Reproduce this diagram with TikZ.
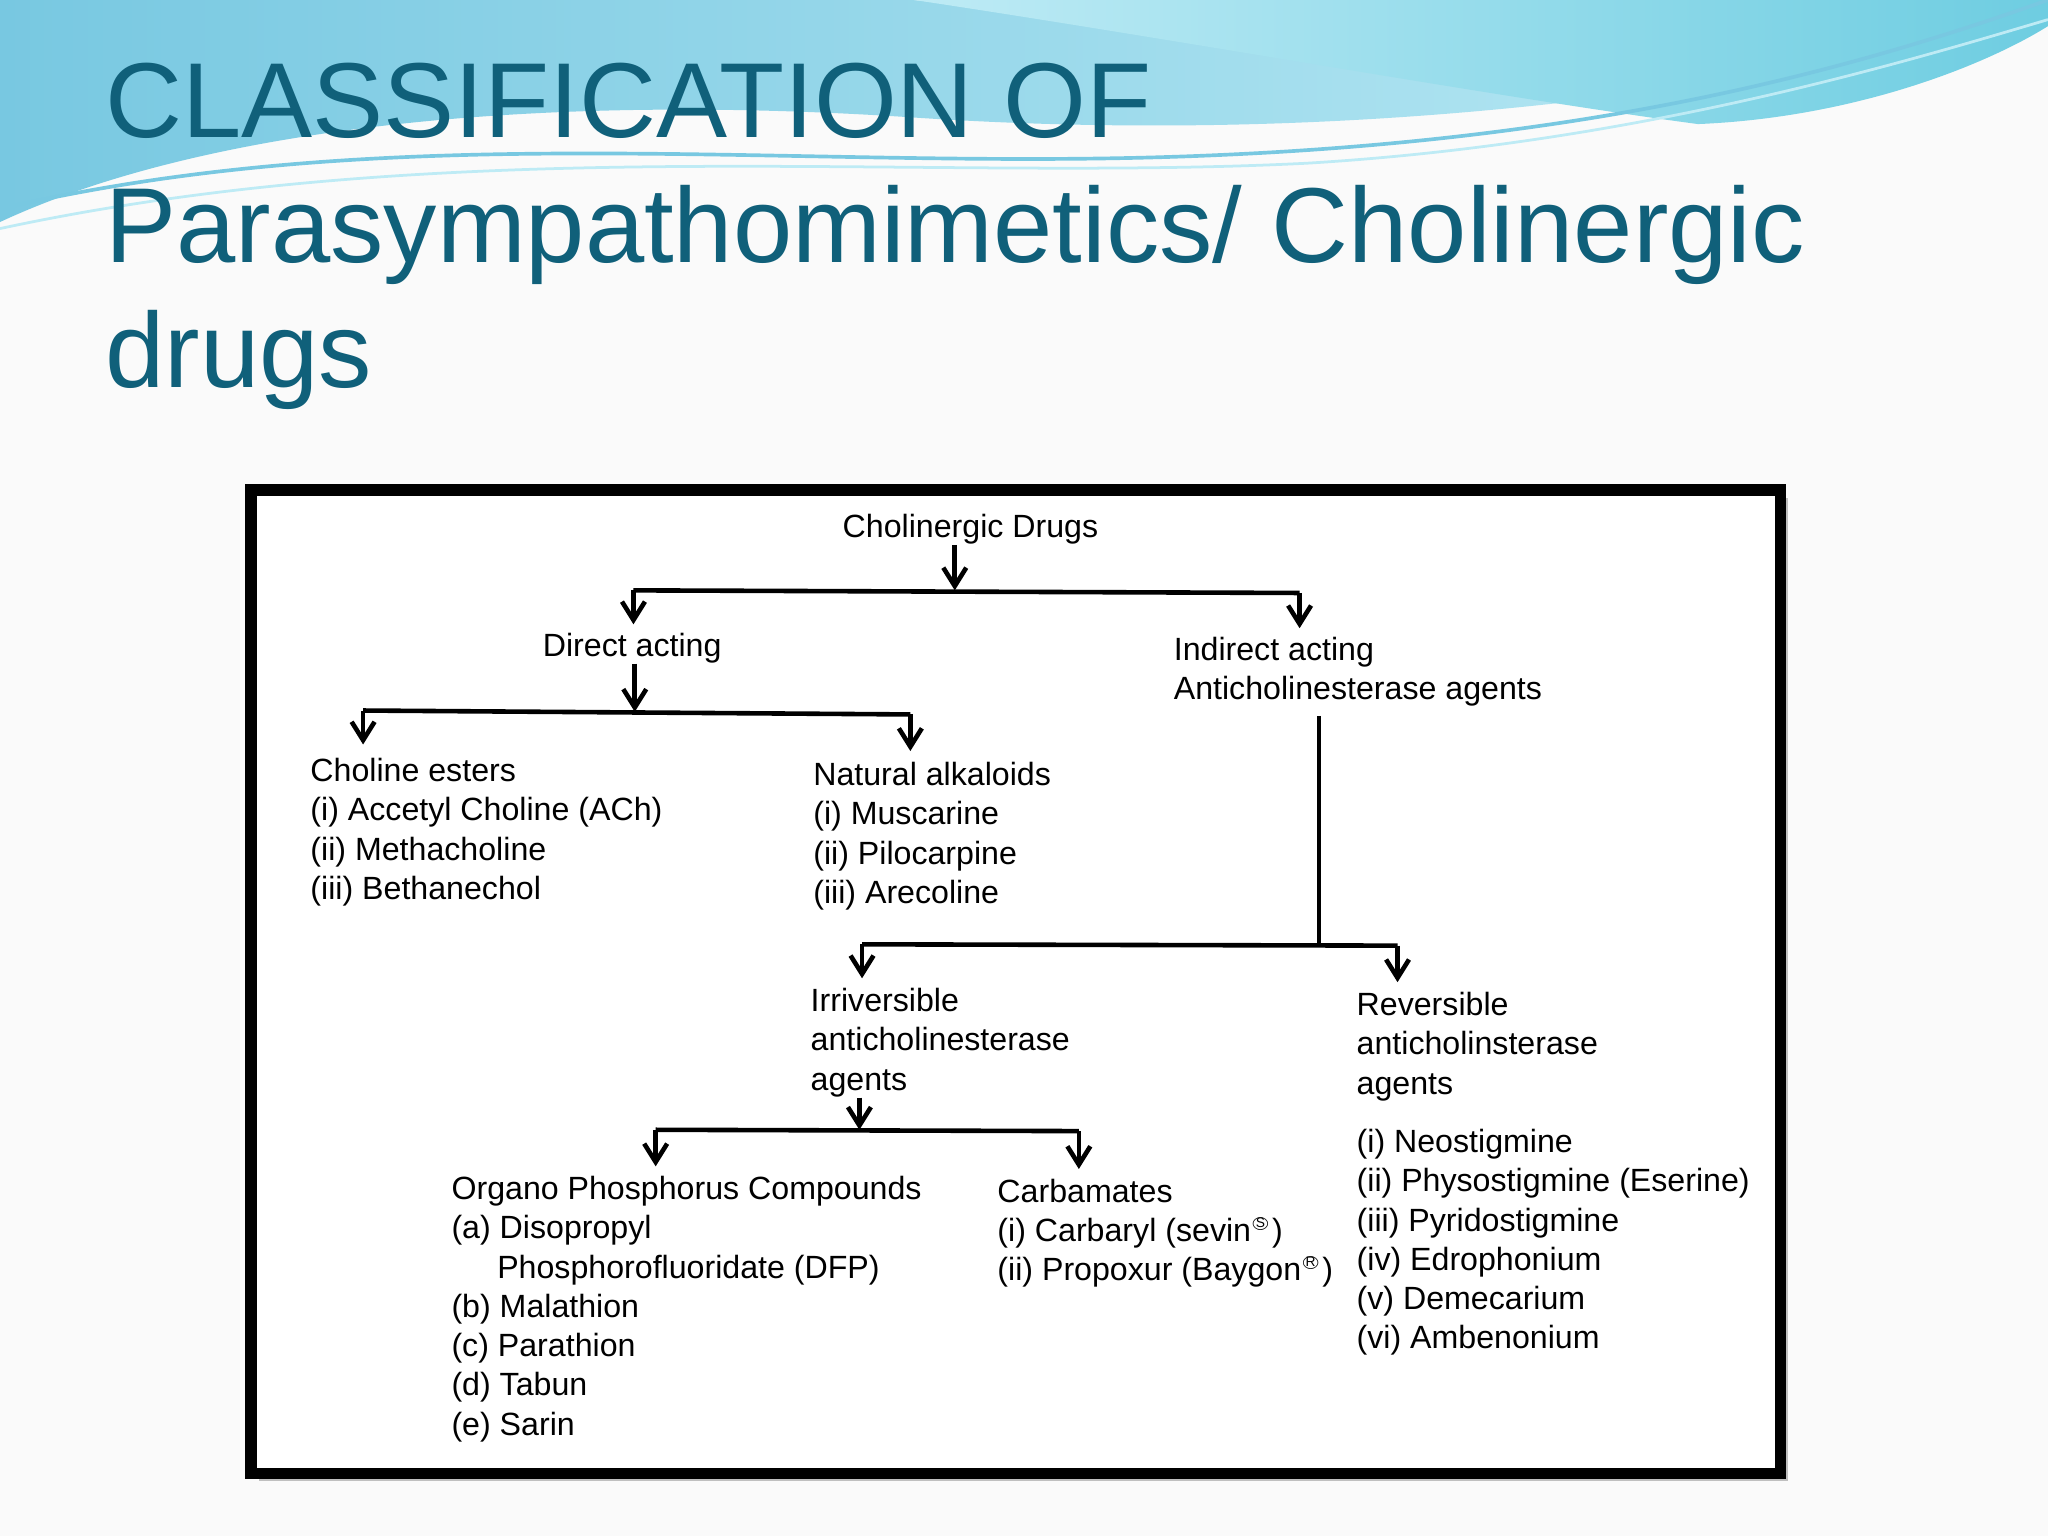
\documentclass[tikz,border=0pt]{standalone}
\usepackage{fontspec}
\setmainfont{Liberation Sans}
\usetikzlibrary{arrows.meta}
\definecolor{titlec}{RGB}{16,96,122}
\definecolor{wave1}{RGB}{120,200,225}
\definecolor{wave2}{RGB}{190,235,245}
\definecolor{wave3}{RGB}{110,205,225}
\begin{document}
\begin{tikzpicture}[x=0.01cm,y=-0.01cm,
  lbl/.style={inner sep=0,anchor=north west,align=left,font=\fontsize{7}{8.54}\selectfont},
  ttl/.style={inner sep=0,anchor=base west,text=titlec,font=\fontsize{23.2}{27.3}\selectfont},
  arr/.style={-{Straight Barb[length=4pt,width=5pt]},line width=1pt},
  ln/.style={line width=1pt}]
\useasboundingbox (0,0) rectangle (1568,1176);
\fill[white!96!gray] (0,0) rectangle (1568,1176);
% waves
\shade[left color=wave1, right color=wave2]
  (0,0) -- (1568,0) -- (1568,10) .. controls (1300,80) and (1000,110) .. (700,90)
  .. controls (400,70) and (150,100) .. (0,170) -- cycle;
\fill[white!96!gray] (700,0) .. controls (900,20) and (1100,60) .. (1250,70)
  .. controls (1400,60) and (1500,20) .. (1568,0) -- cycle;
\shade[left color=wave2, right color=wave3]
  (700,0) .. controls (900,30) and (1150,75) .. (1300,95) .. controls (1420,90) and (1520,50) .. (1568,20)
  -- (1568,0) -- cycle;
\draw[wave1,line width=0.8pt] (0,160) .. controls (300,90) and (600,130) .. (900,120)
  .. controls (1200,110) and (1400,60) .. (1568,0);
\draw[wave2,line width=0.6pt] (0,175) .. controls (350,100) and (700,140) .. (1000,125)
  .. controls (1250,110) and (1450,50) .. (1568,15);
% title
\node[ttl] (t1) at (80,105) {CLASSIFICATION OF};
\node[ttl] (t2) at (80,201) {Parasympathomimetics/ Cholinergic};
\node[ttl] (t3) at (80,297) {drugs};
% box
\fill[gray!50] (198,381) rectangle (1369,1134);
\draw[line width=2.5pt,fill=white] (192,375) rectangle (1363,1128);
% nodes
\node[lbl,anchor=center] (chol) at (743,405) {Cholinergic Drugs};
\node[lbl,anchor=center] (direct) at (484,496) {Direct acting};
\node[lbl] (indirect) at (898,487) {Indirect acting\\Anticholinesterase agents};
\node[lbl] (esters) at (237,580) {Choline esters\\(i) Accetyl Choline (ACh)\\(ii) Methacholine\\(iii) Bethanechol};
\node[lbl] (natural) at (622,583) {Natural alkaloids\\(i) Muscarine\\(ii) Pilocarpine\\(iii) Arecoline};
\node[lbl] (irrev) at (620,756) {Irriversible\\anticholinesterase\\agents};
\node[lbl] (rev) at (1038,759) {Reversible\\anticholinsterase\\agents};
\node[lbl] (organo) at (345,900) {Organo Phosphorus Compounds\\(a) Disopropyl\\\hspace*{0.35cm}Phosphorofluoridate (DFP)\\(b) Malathion\\(c) Parathion\\(d) Tabun\\(e) Sarin};
\node[lbl] (carb) at (763,902) {Carbamates\\(i) Carbaryl (sevin\textsuperscript{\scalebox{0.6}{\textcircled{\tiny S}}})\\(ii) Propoxur (Baygon\textsuperscript{\scalebox{0.6}{\textcircled{\tiny R}}})};
\node[lbl] (revlist) at (1038,864) {(i) Neostigmine\\(ii) Physostigmine (Eserine)\\(iii) Pyridostigmine\\(iv) Edrophonium\\(v) Demecarium\\(vi) Ambenonium};
% connectors
\coordinate (j1) at (731,452); \coordinate (j1l) at (485,452); \coordinate (j1r) at (995,454);
\draw[arr] (chol.south -| j1) -- (j1);
\draw[ln] (j1l) -- (j1r);
\draw[arr] (j1l) -- (485,478);
\draw[arr] (j1r) -- (995,481);
\coordinate (j2) at (486,545); \coordinate (j2l) at (278,544); \coordinate (j2r) at (697,547);
\draw[arr] (direct.south -| j2) -- (j2);
\draw[ln] (j2l) -- (j2r);
\draw[arr] (j2l) -- (278,570);
\draw[arr] (j2r) -- (697,575);
\coordinate (j3) at (1010,723); \coordinate (j3l) at (660,723); \coordinate (j3r) at (1070,724);
\draw[ln] (1010,548) -- (j3);
\draw[ln] (j3l) -- (j3r);
\draw[arr] (j3l) -- (660,749);
\draw[arr] (j3r) -- (1070,752);
\coordinate (j4) at (658,865); \coordinate (j4l) at (502,865); \coordinate (j4r) at (826,866);
\draw[arr] (irrev.south -| j4) -- (j4);
\draw[ln] (j4l) -- (j4r);
\draw[arr] (j4l) -- (502,893);
\draw[arr] (j4r) -- (826,895);
\end{tikzpicture}
\end{document}
